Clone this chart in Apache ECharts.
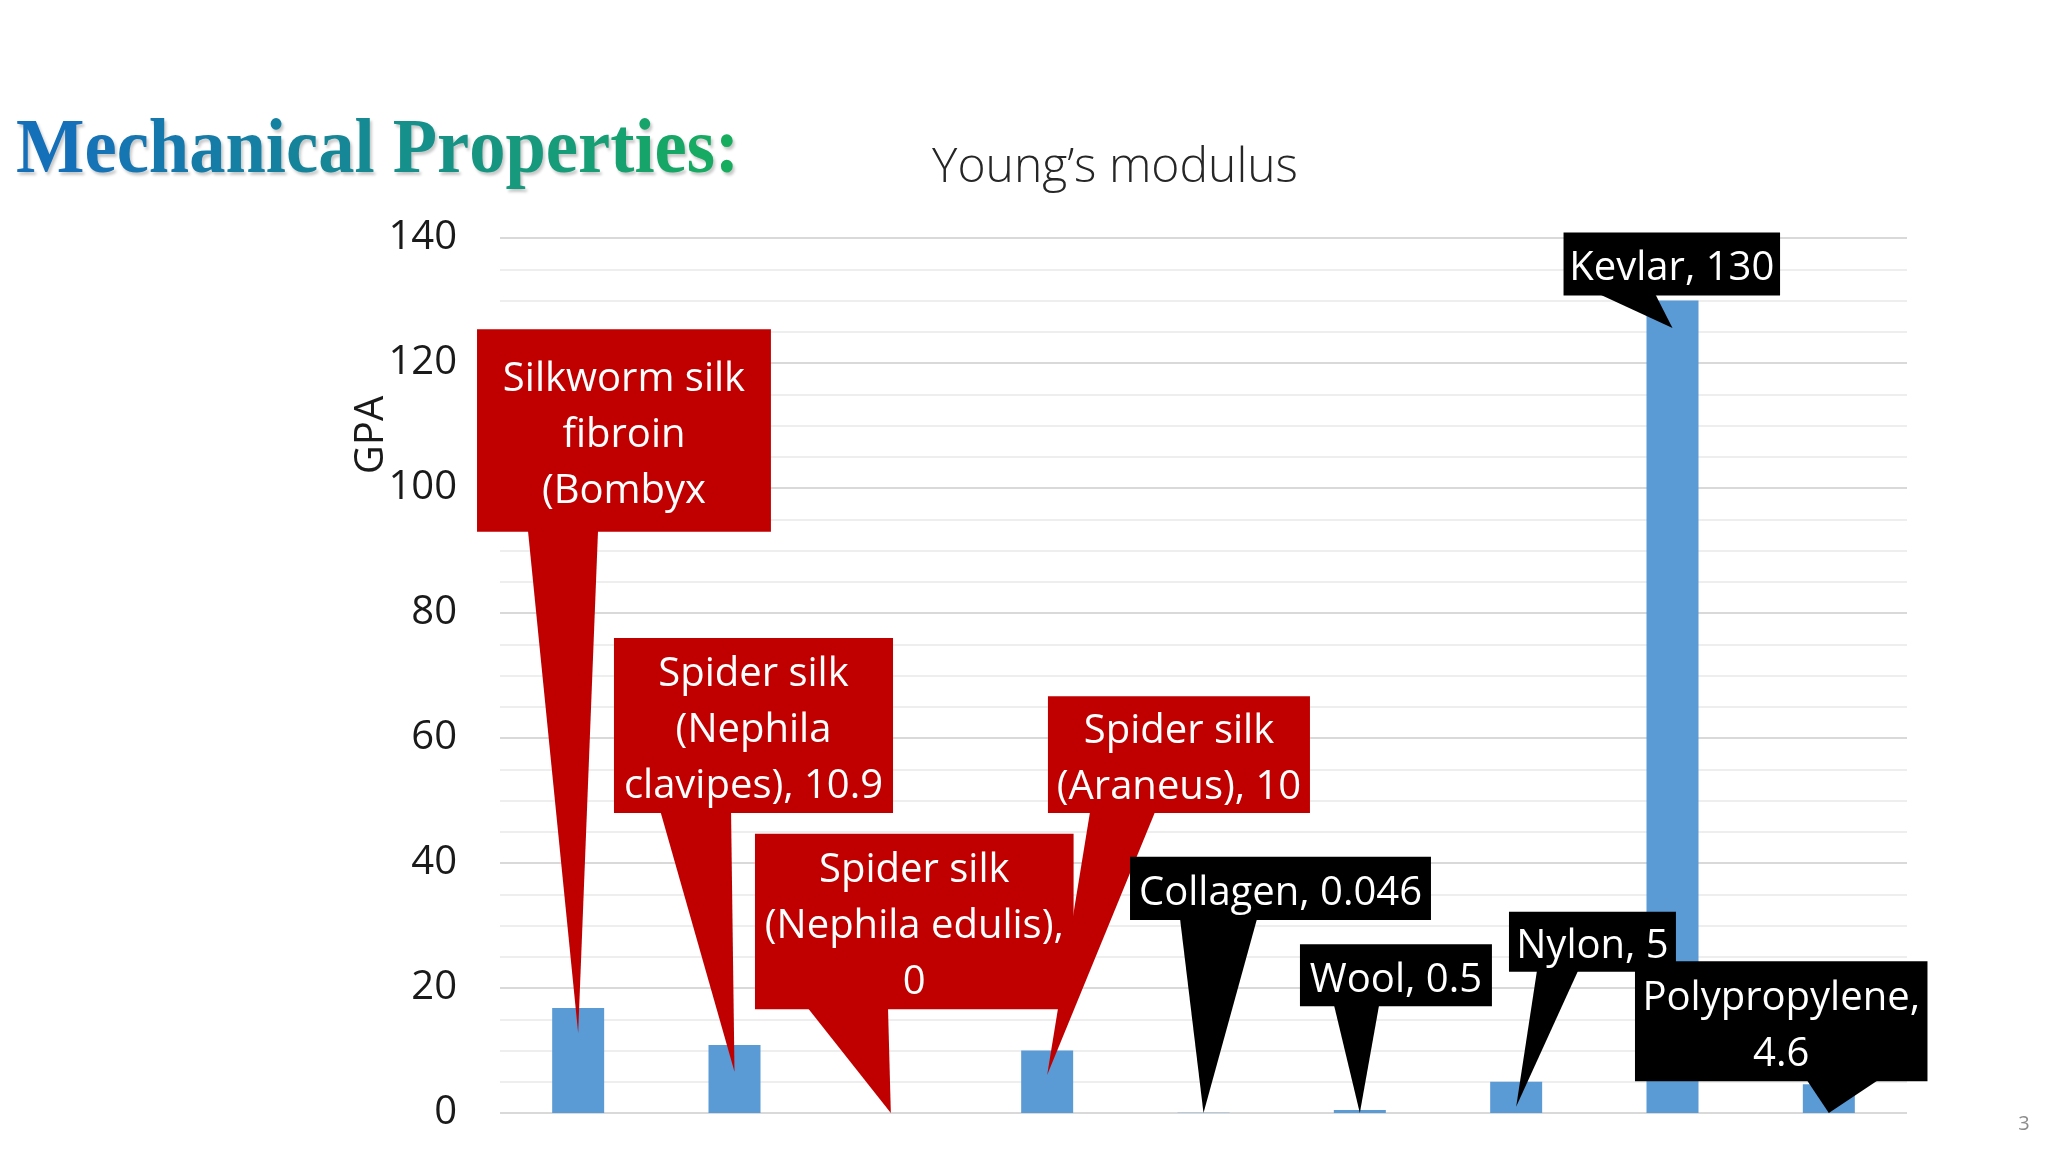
<!DOCTYPE html>
<html>
<head>
<meta charset="utf-8">
<title>Young's modulus</title>
<script src="https://cdn.jsdelivr.net/npm/echarts@6/dist/echarts.min.js"></script>
<style>
  html, body { margin: 0; padding: 0; background: #fff; }
  #main { width: 2048px; height: 1152px; }
</style>
</head>
<body>
<div id="main"></div>
<script>
// materials on the x axis
var materials = ['Silkworm silk fibroin (Bombyx mori)', 'Spider silk (Nephila clavipes)', 'Spider silk (Nephila edulis)',
  'Spider silk (Araneus)', 'Collagen', 'Wool', 'Nylon', 'Kevlar', 'Polypropylene'];
// Young's modulus, GPa
var modulus = [16.8, 10.9, 0, 10, 0.046, 0.5, 5, 130, 4.6];
// callout texts, as shown on the slide
var calloutText = ['Silkworm silk\nfibroin\n(Bombyx', 'Spider silk\n(Nephila\nclavipes), 10.9', 'Spider silk\n(Nephila edulis),\n0',
  'Spider silk\n(Araneus), 10', 'Collagen, 0.046', 'Wool, 0.5', 'Nylon, 5', 'Kevlar, 130', 'Polypropylene,\n4.6'];
var yMin = 0, yMax = 140, yStep = 20;

// callout layout: box left/right (category units), box top/bottom (GPa),
// pointer base left/right (category units), pointer tip (category, GPa)
var calloutLayout = [
  [-0.647, 1.233, 125.4, 93.0, -0.321, 0.127, 0, 12.8],
  [0.229, 2.014, 76.0, 48.0, 0.527, 0.978, 1, 6.6],
  [1.131, 3.169, 44.7, 16.6, 1.470, 1.982, 2, 0],
  [3.005, 4.681, 66.7, 48.0, 3.274, 3.690, 3, 6.1],
  [3.530, 5.455, 41.0, 30.9, 3.850, 4.342, 4, 0],
  [4.617, 5.845, 27.0, 17.1, 4.835, 5.123, 5, 0],
  [5.954, 7.022, 32.2, 22.6, 6.133, 6.396, 6, 1.0],
  [6.303, 7.688, 140.9, 130.8, 6.536, 6.891, 7, 125.6],
  [6.760, 8.631, 24.3, 5.1, 7.860, 8.314, 8, 0]
];
var calloutFill = ['#c00000', '#c00000', '#c00000', '#c00000', '#000', '#000', '#000', '#000', '#000'];

var myChart = echarts.init(document.getElementById('main'));

// slide heading, blue to green across the letters
var heading = 'Mechanical Properties:';
var headRich = {};
var headText = '';
function mix(a, b, t) {
  var ca = echarts.color.parse(a), cb = echarts.color.parse(b);
  return 'rgb(' + [0, 1, 2].map(function (k) { return Math.round(ca[k] + (cb[k] - ca[k]) * t); }).join(',') + ')';
}
for (var h = 0; h < heading.length; h++) {
  headRich['c' + h] = {
    fill: mix('#1570ba', '#16ad5e', h / (heading.length - 1)),
    fontFamily: 'Liberation Serif',
    fontWeight: 'bold',
    fontSize: 78,
    textShadowColor: 'rgba(0,0,0,0.22)',
    textShadowBlur: 3,
    textShadowOffsetX: 2,
    textShadowOffsetY: 3
  };
  headText += '{c' + h + '|' + heading.charAt(h) + '}';
}

function renderCallout(params, api) {
  var i = params.dataIndex;
  var L = calloutLayout[i];
  var x0 = api.coord([0, 0])[0];
  var band = api.size([1, 0])[0];
  function px(c) { return x0 + c * band; }
  function py(v) { return api.coord([0, v])[1]; }
  var left = px(L[0]), right = px(L[1]), top = py(L[2]), bottom = py(L[3]);
  var fill = calloutFill[i];
  return {
    type: 'group',
    children: [
      {
        type: 'polygon',
        shape: { points: [[px(L[4]), bottom - 1], [px(L[5]), bottom - 1], [px(L[6]), py(L[7])]] },
        style: { fill: fill }
      },
      {
        type: 'rect',
        shape: { x: left, y: top, width: right - left, height: bottom - top },
        style: { fill: fill }
      },
      {
        type: 'text',
        style: {
          text: calloutText[i],
          x: (left + right) / 2,
          y: (top + bottom) / 2 + 5,
          align: 'center',
          verticalAlign: 'middle',
          fill: '#fff',
          fontFamily: 'Open Sans',
          fontSize: 40,
          lineHeight: 56
        }
      }
    ]
  };
}

var option = {
  backgroundColor: '#fff',
  animation: false,
  grid: { left: 500, right: 141, top: 238, bottom: 39 },
  graphic: [
    {
      type: 'text',
      x: 16,
      y: 152,
      scaleX: 0.93,
      style: {
        text: headText,
        rich: headRich,
        fill: '#1570ba',
        verticalAlign: 'middle'
      }
    },
    {
      type: 'text',
      x: 1115,
      y: 168,
      style: {
        text: 'Young\u2019s modulus',
        fontFamily: 'Open Sans',
        fontWeight: 300,
        fontSize: 48,
        fill: '#262626',
        align: 'center',
        verticalAlign: 'middle'
      }
    },
    {
      type: 'text',
      x: 372,
      y: 435,
      rotation: Math.PI / 2,
      style: {
        text: 'GPA',
        fontFamily: 'Open Sans',
        fontSize: 40,
        fill: '#1a1a1a',
        align: 'center',
        verticalAlign: 'middle'
      }
    },
    {
      type: 'text',
      x: 2024,
      y: 1124,
      style: { text: '3', fontFamily: 'Open Sans', fontSize: 20, fill: '#8c8c8c', align: 'center', verticalAlign: 'middle' }
    }
  ],
  xAxis: {
    type: 'category',
    data: materials,
    axisLine: { show: false },
    axisTick: { show: false },
    axisLabel: { show: false }
  },
  yAxis: {
    type: 'value',
    min: yMin,
    max: yMax,
    interval: yStep,
    axisLine: { show: false },
    axisTick: { show: false },
    axisLabel: { fontFamily: 'Open Sans', fontSize: 40, color: '#1a1a1a', margin: 43, padding: [10, 0, 0, 0] },
    splitLine: { lineStyle: { color: '#d9d9d9', width: 2 } },
    minorTick: { show: false, splitNumber: 4 },
    minorSplitLine: { show: true, lineStyle: { color: '#eeeeee', width: 2 } }
  },
  series: [
    {
      name: 'Young\u2019s modulus',
      type: 'bar',
      data: modulus,
      barWidth: 52,
      itemStyle: { color: '#5b9bd5' },
      z: 2
    },
    {
      type: 'custom',
      coordinateSystem: 'cartesian2d',
      data: modulus.map(function (v, i) { return [i, v]; }),
      renderItem: renderCallout,
      clip: false,
      z: 5
    }
  ]
};
myChart.setOption(option);
window.onresize = myChart.resize;
</script>
</body>
</html>
